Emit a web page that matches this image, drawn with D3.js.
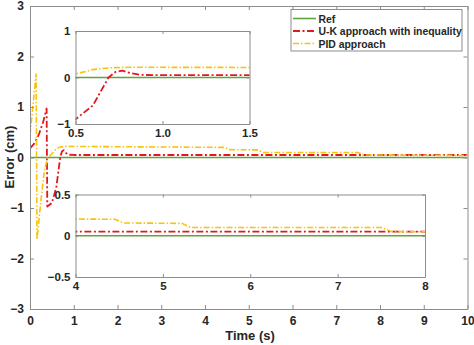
<!DOCTYPE html>
<html><head><meta charset="utf-8">
<script src="https://cdn.jsdelivr.net/npm/d3@7"></script>
<style>
body{margin:0;background:#fff;}
svg text{font-family:Arial,"Liberation Sans",Helvetica,sans-serif;font-weight:bold;fill:#262626;}
</style></head><body>
<svg id="c" width="474" height="345"></svg>
<script>
// ---- data ----
const refT = [0, 10];
const refY = [0, 0];
const ukT = [0, 0.1, 0.2, 0.3, 0.38, 0.395, 0.5, 0.6, 0.69, 0.73, 0.77, 0.82, 0.88, 1.0, 10];
const ukY = [0.18, 0.28, 0.45, 0.7, 0.97, -0.97, -0.9, -0.6, 0, 0.12, 0.146, 0.09, 0.055, 0.05, 0.05];
const pidT = [0, 0.14, 0.16, 0.25, 0.33, 0.4, 0.5, 0.6, 0.7, 0.8, 4.45, 4.55, 5.22, 5.32, 7.5, 7.62, 10];
const pidY = [0.45, 1.65, -1.62, -0.85, -0.25, -0.02, 0.075, 0.17, 0.21, 0.22, 0.2, 0.155, 0.15, 0.1, 0.1, 0.05, 0.04];
const mainXTicks = [0,1,2,3,4,5,6,7,8,9,10];
const mainYTicks = [-3,-2,-1,0,1,2,3];
const in1XTicks = [0.5, 1.0, 1.5];
const in1YTicks = [-1, 0, 1];
const in2XTicks = [4,5,6,7,8];
const in2YTicks = [-0.5, 0, 0.5];
const legendLabels = ["Ref", "U-K approach with inequality", "PID approach"];

const series = [
  {name: legendLabels[0], t: refT, y: refY, color: "#62a43c", w: 1.6, dash: null},
  {name: legendLabels[1], t: ukT, y: ukY, color: "#e3171d", w: 1.8, dash: "7,2.5,2,2.5"},
  {name: legendLabels[2], t: pidT, y: pidY, color: "#f4c40f", w: 1.6, dash: "6,2,1.5,2"}
];
const pts = s => s.t.map((t,i)=>[t, s.y[i]]);

const svg = d3.select("#c");
const axisColor = "#8c8c8c";

function panel(g, x, y, xTicks, yTicks, xFmt, yFmt, fs, clipId, opts) {
  const [x0,x1] = x.range(), [y0,y1] = y.range(); // y0 bottom, y1 top
  g.append("rect").attr("x",x0).attr("y",y1).attr("width",x1-x0).attr("height",y0-y1).attr("fill","#fff");
  g.append("clipPath").attr("id",clipId).append("rect").attr("x",x0).attr("y",y1).attr("width",x1-x0).attr("height",y0-y1);
  const lg = g.append("g").attr("clip-path",`url(#${clipId})`);
  const line = d3.line().x(d=>x(d[0])).y(d=>y(d[1]));
  series.forEach(s=>{
    lg.append("path").attr("d", line(pts(s))).attr("fill","none")
      .attr("stroke", s.color).attr("stroke-width", s.w)
      .attr("stroke-dasharray", s.dash).attr("stroke-linejoin","round");
  });
  const tl = opts.tl;
  const ax = g.append("g").attr("transform",`translate(0,${y0})`)
    .call(d3.axisBottom(x).tickValues(xTicks).tickFormat(xFmt).tickSizeInner(-tl).tickSizeOuter(0).tickPadding(opts.xpad));
  const ay = g.append("g").attr("transform",`translate(${x0},0)`)
    .call(d3.axisLeft(y).tickValues(yTicks).tickFormat(yFmt).tickSizeInner(-tl).tickSizeOuter(0).tickPadding(opts.ypad));
  const at = g.append("g").attr("transform",`translate(0,${y1})`)
    .call(d3.axisTop(x).tickValues(xTicks).tickFormat("").tickSizeInner(-tl).tickSizeOuter(0));
  const ar = g.append("g").attr("transform",`translate(${x1},0)`)
    .call(d3.axisRight(y).tickValues(yTicks).tickFormat("").tickSizeInner(-tl).tickSizeOuter(0));
  [ax,ay,at,ar].forEach(a=>{
    a.selectAll("path").attr("stroke",axisColor);
    a.selectAll("line").attr("stroke",axisColor);
    a.selectAll("text").attr("font-size",fs).style("fill","#262626");
  });
}

// main axes
const mx = d3.scaleLinear().domain([0,10]).range([30,467.5]);
const my = d3.scaleLinear().domain([-3,3]).range([309,6]);
const gm = svg.append("g");
panel(gm, mx, my, mainXTicks, mainYTicks, d3.format("d"), d3.format("d"), 12, "clipMain", {tl:4, xpad:7, ypad:6});

// inset 1
const i1x = d3.scaleLinear().domain([0.5,1.5]).range([75.5,249.5]);
const i1y = d3.scaleLinear().domain([-1,1]).range([124,31]);
panel(svg.append("g"), i1x, i1y, in1XTicks, in1YTicks, d3.format(".1f"), d3.format("d"), 11.5, "clip1", {tl:3, xpad:5, ypad:5});

// inset 2
const i2x = d3.scaleLinear().domain([4,8]).range([75.5,425]);
const i2y = d3.scaleLinear().domain([-0.5,0.5]).range([277,194.5]);
panel(svg.append("g"), i2x, i2y, in2XTicks, in2YTicks, d3.format("d"), d => d===0?"0":d3.format(".1f")(d), 11.5, "clip2", {tl:3, xpad:5, ypad:5});

// axis labels
svg.append("text").attr("x",250).attr("y",340).attr("text-anchor","middle").attr("font-size",13).text("Time (s)");
svg.append("text").attr("transform","translate(14,157) rotate(-90)").attr("text-anchor","middle").attr("font-size",13).text("Error (cm)");

// legend
const lgd = svg.append("g");
lgd.append("rect").attr("x",291).attr("y",9.5).attr("width",171).attr("height",41.5)
  .attr("fill","#fff").attr("stroke",axisColor).attr("stroke-width",1);
series.forEach((s,i)=>{
  const yy = 18.5 + i*12.5;
  lgd.append("line").attr("x1",293).attr("x2",316).attr("y1",yy).attr("y2",yy)
    .attr("stroke",s.color).attr("stroke-width",s.w).attr("stroke-dasharray",s.dash);
  lgd.append("text").attr("x",318.5).attr("y",yy+4).attr("font-size",10.4).text(s.name);
});
</script>
</body></html>
